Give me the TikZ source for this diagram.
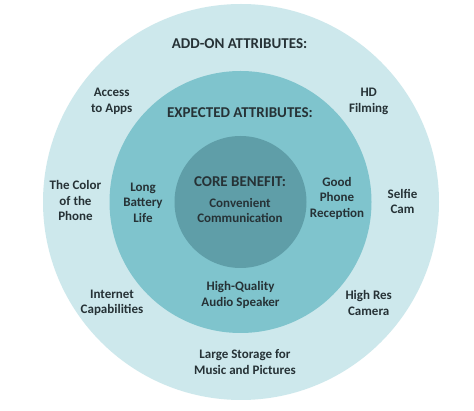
\documentclass[tikz,border=0pt]{standalone}
\usepackage{fontspec}
\setmainfont{Carlito}
\definecolor{outerc}{RGB}{205,232,236}
\definecolor{midc}{RGB}{127,196,205}
\definecolor{innerc}{RGB}{95,158,168}
\definecolor{txtc}{RGB}{38,50,54}
\tikzset{
  ring/.style={circle, inner sep=0pt, draw=none},
  head/.style={font=\fontsize{15}{18}\selectfont\bfseries, text=txtc, align=center, inner sep=0pt},
  lbl/.style={font=\fontsize{13}{15.5}\selectfont\bfseries, text=txtc, align=center, inner sep=0pt}
}
\begin{document}
\begin{tikzpicture}[x=1pt,y=-1pt]
\useasboundingbox[fill=white] (0,0) rectangle (474,411);
\node[ring, fill=outerc, minimum size=396pt] (outer) at (241,202) {};
\node[ring, fill=midc, minimum size=262pt] (mid) at (240.5,202) {};
\node[ring, fill=innerc, minimum size=132pt] (inner) at (240.5,202) {};
\node[head] (addon) at (239.5,43.5) {ADD-ON ATTRIBUTES:};
\node[head] (expected) at (240,113) {EXPECTED ATTRIBUTES:};
\node[head] (core) at (240,182) {CORE BENEFIT:};
\node[lbl] (conv) at (240,210.5) {Convenient\\Communication};
\node[lbl] (apps) at (111.7,101.5) {Access\\to Apps};
\node[lbl] (hd) at (368.7,101.5) {HD\\Filming};
\node[lbl] (color) at (75.5,200.7) {The Color\\of the\\Phone};
\node[lbl] (battery) at (143,202.7) {Long\\Battery\\Life};
\node[lbl] (reception) at (337,198) {Good\\Phone\\Reception};
\node[lbl] (selfie) at (402.5,201.3) {Selfie\\Cam};
\node[lbl] (audio) at (240.5,295) {High-Quality\\Audio Speaker};
\node[lbl] (internet) at (112,302.8) {Internet\\Capabilities};
\node[lbl] (camera) at (368.7,302.8) {High Res\\Camera};
\node[lbl] (storage) at (245,362.2) {Large Storage for\\Music and Pictures};
\end{tikzpicture}
\end{document}
